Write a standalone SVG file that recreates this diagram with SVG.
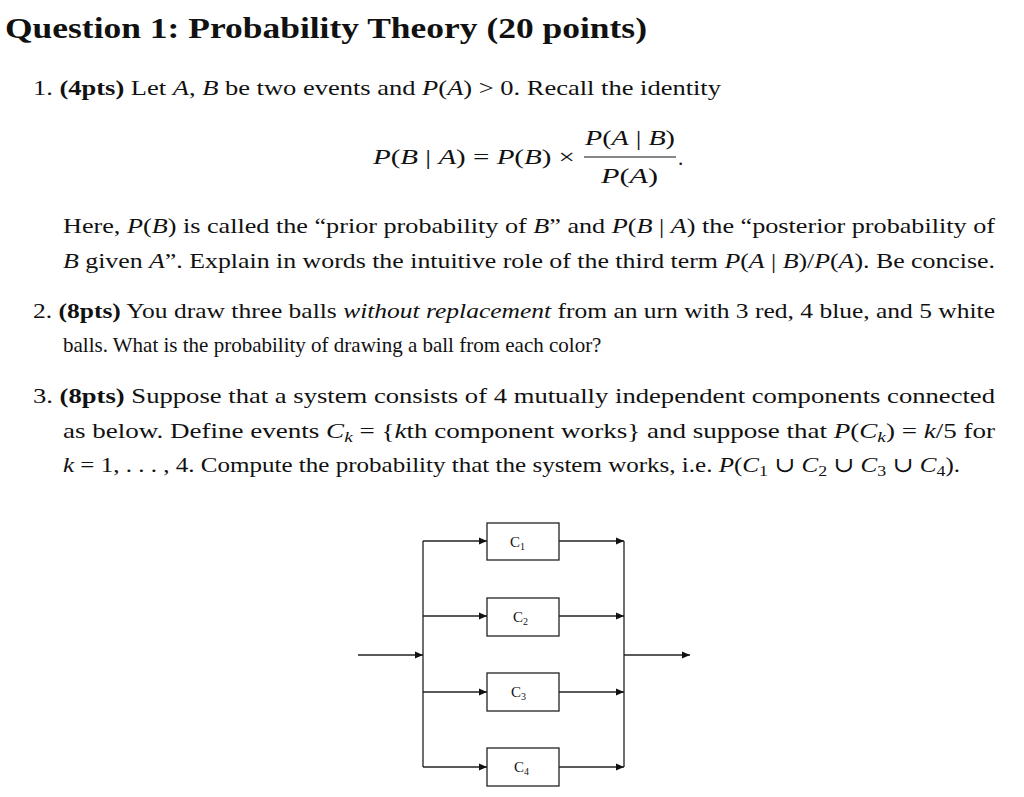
<svg xmlns="http://www.w3.org/2000/svg" width="1024" height="797" viewBox="0 0 1024 797">
<style>
text{font-family:"Liberation Serif","DejaVu Serif",serif;fill:#111}
.b{font-size:21px}
.i{font-style:italic}
.bd{font-weight:bold}
.box{fill:#fff;stroke:#222;stroke-width:1.3}
.ln{stroke:#222;stroke-width:1.3;fill:none}
.lbl{font-size:15px}
</style>
<defs><marker id="a" markerWidth="8" markerHeight="8" refX="8" refY="4" orient="auto" markerUnits="userSpaceOnUse"><path d="M0,0.5 L8,4 L0,7.5Z" fill="#111"/></marker></defs>
<rect width="1024" height="797" fill="#fff"/>
<text x="5" y="38" font-size="29" font-weight="bold" textLength="642" lengthAdjust="spacingAndGlyphs">Question 1: Probability Theory (20 points)</text>
<text class="b" x="33" y="95" textLength="688" lengthAdjust="spacingAndGlyphs">1. <tspan class="bd">(4pts)</tspan> Let <tspan class="i">A</tspan>, <tspan class="i">B</tspan> be two events and <tspan class="i">P</tspan>(<tspan class="i">A</tspan>) &gt; 0. Recall the identity</text>
<text class="b" x="373" y="164" textLength="202" lengthAdjust="spacingAndGlyphs"><tspan class="i">P</tspan>(<tspan class="i">B</tspan> | <tspan class="i">A</tspan>) = <tspan class="i">P</tspan>(<tspan class="i">B</tspan>) ×</text>
<text class="b" x="585" y="145" textLength="90" lengthAdjust="spacingAndGlyphs"><tspan class="i">P</tspan>(<tspan class="i">A</tspan> | <tspan class="i">B</tspan>)</text>
<line x1="584" y1="157" x2="676" y2="157" stroke="#111" stroke-width="1.2"/>
<text class="b" x="601" y="183" textLength="57" lengthAdjust="spacingAndGlyphs"><tspan class="i">P</tspan>(<tspan class="i">A</tspan>)</text>
<text class="b" x="678" y="165">.</text>
<text class="b" x="63" y="233" textLength="932" lengthAdjust="spacingAndGlyphs">Here, <tspan class="i">P</tspan>(<tspan class="i">B</tspan>) is called the “prior probability of <tspan class="i">B</tspan>” and <tspan class="i">P</tspan>(<tspan class="i">B</tspan> | <tspan class="i">A</tspan>) the “posterior probability of</text>
<text class="b" x="63" y="268" textLength="932" lengthAdjust="spacingAndGlyphs"><tspan class="i">B</tspan> given <tspan class="i">A</tspan>”. Explain in words the intuitive role of the third term <tspan class="i">P</tspan>(<tspan class="i">A</tspan> | <tspan class="i">B</tspan>)/<tspan class="i">P</tspan>(<tspan class="i">A</tspan>). Be concise.</text>
<text class="b" x="33" y="318" textLength="962" lengthAdjust="spacingAndGlyphs">2. <tspan class="bd">(8pts)</tspan> You draw three balls <tspan class="i">without replacement</tspan> from an urn with 3 red, 4 blue, and 5 white</text>
<text class="b" x="63" y="352">balls. What is the probability of drawing a ball from each color?</text>
<text class="b" x="33" y="403" textLength="962" lengthAdjust="spacingAndGlyphs">3. <tspan class="bd">(8pts)</tspan> Suppose that a system consists of 4 mutually independent components connected</text>
<text class="b" x="63" y="438" textLength="932" lengthAdjust="spacingAndGlyphs">as below. Define events <tspan class="i">C<tspan font-size="15" dy="4">k</tspan></tspan><tspan dy="-4"> = {</tspan><tspan class="i">k</tspan>th component works} and suppose that <tspan class="i">P</tspan>(<tspan class="i">C<tspan font-size="15" dy="4">k</tspan></tspan><tspan dy="-4">) = </tspan><tspan class="i">k</tspan>/5 for</text>
<text class="b" x="63" y="472" textLength="897" lengthAdjust="spacingAndGlyphs"><tspan class="i">k</tspan> = 1, . . . , 4. Compute the probability that the system works, i.e. <tspan class="i">P</tspan>(<tspan class="i">C</tspan><tspan font-size="15" dy="4">1</tspan><tspan dy="-4"> ∪ </tspan><tspan class="i">C</tspan><tspan font-size="15" dy="4">2</tspan><tspan dy="-4"> ∪ </tspan><tspan class="i">C</tspan><tspan font-size="15" dy="4">3</tspan><tspan dy="-4"> ∪ </tspan><tspan class="i">C</tspan><tspan font-size="15" dy="4">4</tspan><tspan dy="-4">).</tspan></text>
<g id="connectors">
<path class="ln" d="M423,541 V767 M624,541 V767"/>
<line class="ln" x1="358" y1="655" x2="423" y2="655" marker-end="url(#a)"/>
<line class="ln" x1="624" y1="655" x2="690" y2="655" marker-end="url(#a)"/>
<line class="ln" x1="423" y1="541" x2="487" y2="541" marker-end="url(#a)"/>
<line class="ln" x1="423" y1="616" x2="487" y2="616" marker-end="url(#a)"/>
<line class="ln" x1="423" y1="692" x2="487" y2="692" marker-end="url(#a)"/>
<line class="ln" x1="423" y1="767" x2="487" y2="767" marker-end="url(#a)"/>
<line class="ln" x1="559" y1="541" x2="624" y2="541" marker-end="url(#a)"/>
<line class="ln" x1="559" y1="616" x2="624" y2="616" marker-end="url(#a)"/>
<line class="ln" x1="559" y1="692" x2="624" y2="692" marker-end="url(#a)"/>
<line class="ln" x1="559" y1="767" x2="624" y2="767" marker-end="url(#a)"/>
</g>
<g id="c1"><rect class="box" x="487" y="523" width="72" height="37"/><text class="lbl" x="510" y="547">C<tspan font-size="10" dy="3">1</tspan></text></g>
<g id="c2"><rect class="box" x="487" y="598" width="72" height="38"/><text class="lbl" x="513" y="622">C<tspan font-size="10" dy="3">2</tspan></text></g>
<g id="c3"><rect class="box" x="487" y="673" width="72" height="38"/><text class="lbl" x="511" y="697">C<tspan font-size="10" dy="3">3</tspan></text></g>
<g id="c4"><rect class="box" x="487" y="748" width="72" height="38"/><text class="lbl" x="514" y="772">C<tspan font-size="10" dy="3">4</tspan></text></g>
</svg>
